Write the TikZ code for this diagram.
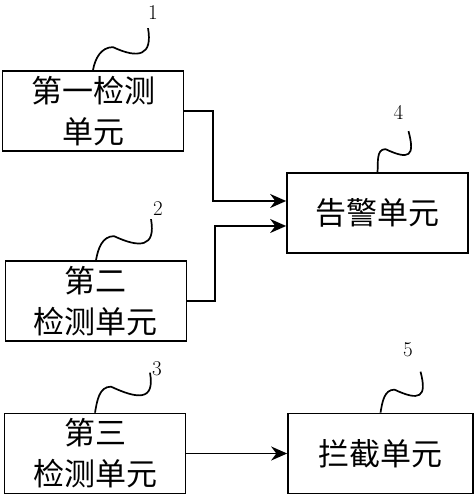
\documentclass[tikz,border=0pt]{standalone}
\usepackage{fontspec}
\usepackage{tikz}
\usetikzlibrary{positioning}
\usetikzlibrary{arrows.meta}
\newfontfamily\cjk{Noto Sans CJK SC}
\tikzstyle{unit} = [rectangle, draw, line width=1.7pt, minimum width=181pt, minimum height=80pt, align=center, font=\cjk\fontsize{31}{41}\selectfont]
\tikzstyle{tag} = [draw=none, fill=none, text centered, font=\fontsize{21}{21}\selectfont]
\tikzstyle{signal} = [draw, line width=1.9pt, -{Stealth[length=16pt,width=14pt]}]
\tikzstyle{lead} = [draw, line width=1.7pt]

\begin{document}
\begin{tikzpicture}[x=1pt, y=1pt]
	\useasboundingbox (0,0) rectangle (474,498);
	% place nodes
	\node [unit] (D1) at (93,387)   {第一检测\\单元};
	\node [unit] (D2) at (96,197)   {第二\\检测单元};
	\node [unit] (D3) at (95,44.5)  {第三\\检测单元};
	\node [unit] (A4) at (377.5,285) {告警单元};
	\node [unit, minimum width=185pt] (B5) at (380.5,44.5) {拦截单元};

	% reference numbers
	\node [tag] (L1) at (153,485)   {1};
	\node [tag] (L2) at (158,289)   {2};
	\node [tag] (L3) at (157,129)   {3};
	\node [tag] (L4) at (398.5,386) {4};
	\node [tag] (L5) at (408,148)   {5};

	% draw leads
	\path [lead] (D1.north) to[out=80,in=180] ++(20,23) to[out=-25,in=-80,looseness=1.8] ++(35,19);
	\path [lead] (D2.north) to[out=80,in=180] ++(18,24) to[out=-25,in=-80,looseness=1.8] ++(37,17);
	\path [lead] (D3.north) to[out=80,in=180] ++(16,26) to[out=-25,in=-80,looseness=1.8] ++(39,14);
	\path [lead] (A4.north) to[out=85,in=180] ++(8,23)  to[out=-25,in=-75,looseness=2.3] ++(23,18);
	\path [lead] (B5.north) to[out=80,in=180] ++(14,23) to[out=-25,in=-75,looseness=2.2] ++(26,18);

	% draw edges
	\path [signal] (D1.east) -- ++(29,0) |- ([yshift=12pt]A4.west);
	\path [signal] (D2.east) -- ++(28,0) |- ([yshift=-13pt]A4.west);
	\path [signal] (D3.east) -- (B5.west);
\end{tikzpicture}
\end{document}
